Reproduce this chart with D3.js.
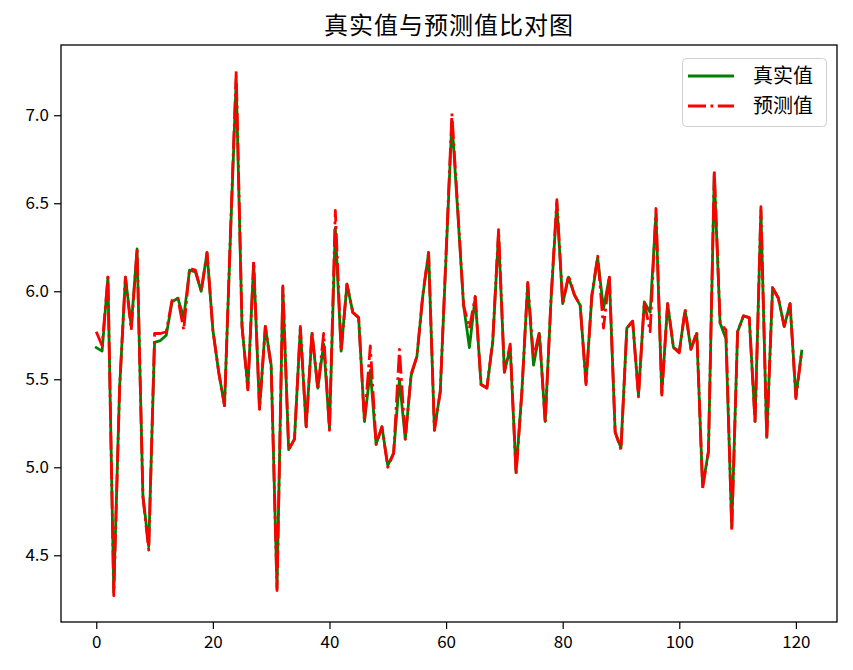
<!DOCTYPE html>
<html>
<head>
<meta charset="utf-8">
<script src="https://cdn.jsdelivr.net/npm/d3@7"></script>
<style>
  html, body { margin: 0; padding: 0; background: #fff; }
  svg { display: block; }
  text { font-family: "Noto Sans CJK SC", "DejaVu Sans", sans-serif; fill: #000; }
</style>
</head>
<body>
<svg id="chart" width="853" height="670"></svg>
<script>
const titleText = "真实值与预测值比对图";
const seriesNames = ["真实值", "预测值"];
const xTicks = [0, 20, 40, 60, 80, 100, 120];
const yTicks = [4.5, 5.0, 5.5, 6.0, 6.5, 7.0];

const trueVals = [
  5.68, 5.66, 6.08, 4.29, 5.45, 6.08, 5.80, 6.24, 4.84, 4.55,
  5.71, 5.72, 5.75, 5.94, 5.96, 5.85, 6.12, 6.11, 6.00, 6.22,
  5.78, 5.54, 5.35, 6.30, 7.20, 5.80, 5.45, 6.16, 5.33, 5.80,
  5.58, 4.31, 6.02, 5.10, 5.16, 5.79, 5.23, 5.76, 5.45, 5.70,
  5.22, 6.36, 5.66, 6.04, 5.88, 5.85, 5.26, 5.55, 5.13, 5.23,
  5.01, 5.08, 5.50, 5.16, 5.52, 5.63, 5.97, 6.22, 5.21, 5.43,
  6.20, 6.97, 6.45, 5.92, 5.68, 5.97, 5.47, 5.45, 5.71, 6.33,
  5.54, 5.68, 4.97, 5.43, 6.04, 5.58, 5.76, 5.26, 5.95, 6.50,
  5.93, 6.08, 5.98, 5.92, 5.48, 5.97, 6.19, 5.90, 6.08, 5.20,
  5.11, 5.79, 5.83, 5.41, 5.94, 5.88, 6.44, 5.42, 5.93, 5.68,
  5.66, 5.89, 5.67, 5.76, 4.89, 5.09, 6.66, 5.82, 5.73, 4.66,
  5.77, 5.86, 5.85, 5.26, 6.46, 5.17, 6.02, 5.96, 5.80, 5.93,
  5.40, 5.66
];

const predVals = [
  5.77, 5.69, 6.08, 4.27, 5.45, 6.08, 5.78, 6.24, 4.83, 4.53,
  5.76, 5.76, 5.77, 5.95, 5.96, 5.78, 6.13, 6.12, 6.00, 6.22,
  5.78, 5.54, 5.35, 6.32, 7.25, 5.80, 5.44, 6.17, 5.33, 5.80,
  5.57, 4.30, 6.03, 5.10, 5.16, 5.80, 5.23, 5.77, 5.44, 5.76,
  5.21, 6.46, 5.66, 6.04, 5.88, 5.85, 5.26, 5.69, 5.13, 5.23,
  5.00, 5.08, 5.67, 5.16, 5.53, 5.63, 5.98, 6.22, 5.21, 5.43,
  6.22, 7.01, 6.47, 5.92, 5.79, 5.97, 5.47, 5.45, 5.72, 6.35,
  5.54, 5.70, 4.96, 5.43, 6.05, 5.62, 5.77, 5.25, 5.96, 6.52,
  5.93, 6.09, 5.98, 5.92, 5.47, 5.98, 6.20, 5.79, 6.09, 5.20,
  5.10, 5.79, 5.83, 5.40, 5.94, 5.77, 6.47, 5.41, 5.93, 5.68,
  5.65, 5.90, 5.67, 5.77, 4.88, 5.09, 6.69, 5.82, 5.78, 4.64,
  5.77, 5.86, 5.85, 5.25, 6.48, 5.16, 6.02, 5.96, 5.80, 5.93,
  5.39, 5.66
];

const idx = d3.range(trueVals.length);

const svg = d3.select("#chart");
const W = 853, H = 670;
const m = { left: 61, right: 837, top: 45, bottom: 622 };

// matplotlib-like 5% margins
const xMin = 0, xMax = idx.length - 1;
const xPad = (xMax - xMin) * 0.05;
const allY = trueVals.concat(predVals);
const yMin = d3.min(allY), yMax = d3.max(allY);
const yPad = (yMax - yMin) * 0.05;

const x = d3.scaleLinear().domain([xMin - xPad, xMax + xPad]).range([m.left, m.right]);
const y = d3.scaleLinear().domain([yMin - yPad, yMax + yPad]).range([m.bottom, m.top]);

svg.append("rect").attr("width", W).attr("height", H).attr("fill", "#fff");

// title
svg.append("text")
  .attr("x", (m.left + m.right) / 2)
  .attr("y", 34)
  .attr("text-anchor", "middle")
  .style("font-size", "24px")
  .style("letter-spacing", "1px")
  .text(titleText);

// clip
svg.append("defs").append("clipPath").attr("id", "clip")
  .append("rect").attr("x", m.left).attr("y", m.top)
  .attr("width", m.right - m.left).attr("height", m.bottom - m.top);

const line = d3.line().x((d, i) => x(idx[i])).y(d => y(d));

const plot = svg.append("g").attr("clip-path", "url(#clip)");
plot.append("path")
  .attr("d", line(trueVals))
  .attr("fill", "none")
  .attr("stroke", "#008000")
  .attr("stroke-width", 2.8)
  .attr("stroke-linejoin", "round")
  .attr("stroke-linecap", "square");

plot.append("path")
  .attr("d", line(predVals))
  .attr("fill", "none")
  .attr("stroke", "#ff0000")
  .attr("stroke-width", 2.8)
  .attr("stroke-linejoin", "round")
  .attr("stroke-dasharray", "18,4.5,2.8,4.5");

// axes
const xAxis = d3.axisBottom(x).tickValues(xTicks).tickSize(7).tickPadding(5).tickFormat(d3.format("d"));
const yAxis = d3.axisLeft(y).tickValues(yTicks).tickSize(7).tickPadding(5).tickFormat(d3.format(".1f"));

const gx = svg.append("g").attr("transform", `translate(0,${m.bottom})`).call(xAxis);
const gy = svg.append("g").attr("transform", `translate(${m.left},0)`).call(yAxis);
[gx, gy].forEach(g => {
  g.select(".domain").remove();
  g.selectAll(".tick line").attr("stroke", "#000").attr("stroke-width", 1.2);
  g.selectAll(".tick text").style("font-size", "17px").attr("fill", "#000");
});
gx.selectAll(".tick text").attr("dy", "0.85em");

// frame
svg.append("rect")
  .attr("x", m.left).attr("y", m.top)
  .attr("width", m.right - m.left).attr("height", m.bottom - m.top)
  .attr("fill", "none").attr("stroke", "#000").attr("stroke-width", 1.3);

// legend
const lg = svg.append("g");
lg.append("rect")
  .attr("x", 682.5).attr("y", 58.5)
  .attr("width", 144).attr("height", 68)
  .attr("rx", 4).attr("ry", 4)
  .attr("fill", "#fff").attr("fill-opacity", 0.8)
  .attr("stroke", "#d0d0d0").attr("stroke-width", 1);

const legendRows = [
  { name: seriesNames[0], color: "#008000", dash: null, yy: 76 },
  { name: seriesNames[1], color: "#ff0000", dash: "18,4.5,2.8,4.5", yy: 106 }
];
legendRows.forEach(r => {
  const l = lg.append("line")
    .attr("x1", 688).attr("x2", 734)
    .attr("y1", r.yy).attr("y2", r.yy)
    .attr("stroke", r.color).attr("stroke-width", 2.8);
  if (r.dash) l.attr("stroke-dasharray", r.dash);
  lg.append("text")
    .attr("x", 753).attr("y", r.yy)
    .attr("dy", "0.35em")
    .style("font-size", "20px")
    .text(r.name);
});
</script>
</body>
</html>
